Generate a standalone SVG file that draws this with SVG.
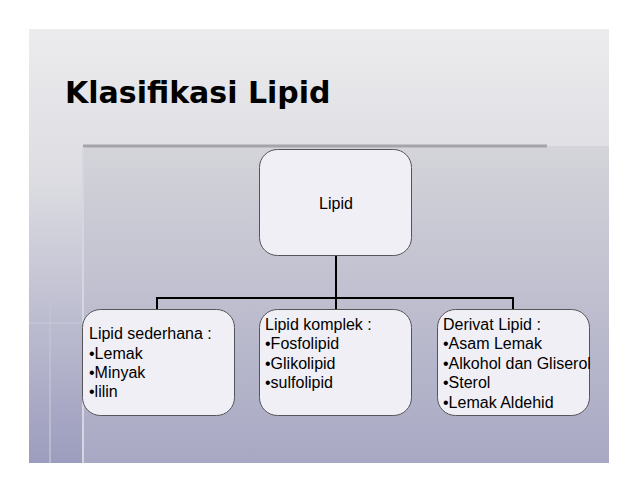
<svg xmlns="http://www.w3.org/2000/svg" width="638" height="493" viewBox="0 0 638 493">
<defs>
<linearGradient id="bg" x1="0" y1="0" x2="0" y2="1">
<stop offset="0" stop-color="#ececee"/>
<stop offset="0.35" stop-color="#dcdce2"/>
<stop offset="1" stop-color="#9c9cbe"/>
</linearGradient>
<linearGradient id="panel" x1="0" y1="0" x2="0" y2="1">
<stop offset="0" stop-color="#d4d4da"/>
<stop offset="1" stop-color="#a8a8c4"/>
</linearGradient>
<style>
.box{fill:#f0eff5;stroke:#555558;stroke-width:1}
.t{font-family:"Liberation Sans",Arial,sans-serif;font-size:16px;fill:#000}
.c{fill:none;stroke:#000;stroke-width:2}
</style>
</defs>
<rect x="29" y="29" width="580" height="434" fill="url(#bg)"/>
<rect x="83" y="146" width="526" height="317" fill="url(#panel)"/>
<line x1="83" y1="146" x2="547" y2="146" stroke="#a4a4aa" stroke-width="3"/>
<line x1="83" y1="147" x2="83" y2="463" stroke="#d6d6e2" stroke-width="2"/>
<line x1="50" y1="300" x2="50" y2="463" stroke="#c4c4d6" stroke-width="2" opacity="0.7"/>
<line x1="29" y1="323" x2="83" y2="323" stroke="#c8c8d8" stroke-width="2" opacity="0.6"/>
<text x="65" y="103" font-family="'DejaVu Sans',sans-serif" font-weight="bold" font-size="30" fill="#000">Klasifikasi Lipid</text>
<g id="connectors">
<path class="c" d="M336 256 V298"/>
<path class="c" d="M157 309 V298 H513 V309"/>
<path class="c" d="M336 298 V309"/>
</g>
<g id="lipid">
<rect class="box" x="259.5" y="149.5" width="152" height="106" rx="18"/>
<text class="t" x="336" y="209" text-anchor="middle">Lipid</text>
</g>
<g id="sederhana">
<rect class="box" x="82.5" y="309.5" width="152" height="106" rx="18"/>
<text class="t" x="89" y="339">Lipid sederhana :</text>
<text class="t" x="89" y="358.5">•Lemak</text>
<text class="t" x="89" y="378">•Minyak</text>
<text class="t" x="89" y="397">•lilin</text>
</g>
<g id="komplek">
<rect class="box" x="259.5" y="309.5" width="152" height="106" rx="18"/>
<text class="t" x="265" y="330">Lipid komplek :</text>
<text class="t" x="265" y="349">•Fosfolipid</text>
<text class="t" x="265" y="368.5">•Glikolipid</text>
<text class="t" x="265" y="388">•sulfolipid</text>
</g>
<g id="derivat">
<rect class="box" x="437.5" y="309.5" width="152" height="106" rx="18"/>
<text class="t" x="443" y="329.5">Derivat Lipid :</text>
<text class="t" x="443" y="349">•Asam Lemak</text>
<text class="t" x="443" y="368.5">•Alkohol dan Gliserol</text>
<text class="t" x="443" y="388">•Sterol</text>
<text class="t" x="443" y="407.5">•Lemak Aldehid</text>
</g>
</svg>
